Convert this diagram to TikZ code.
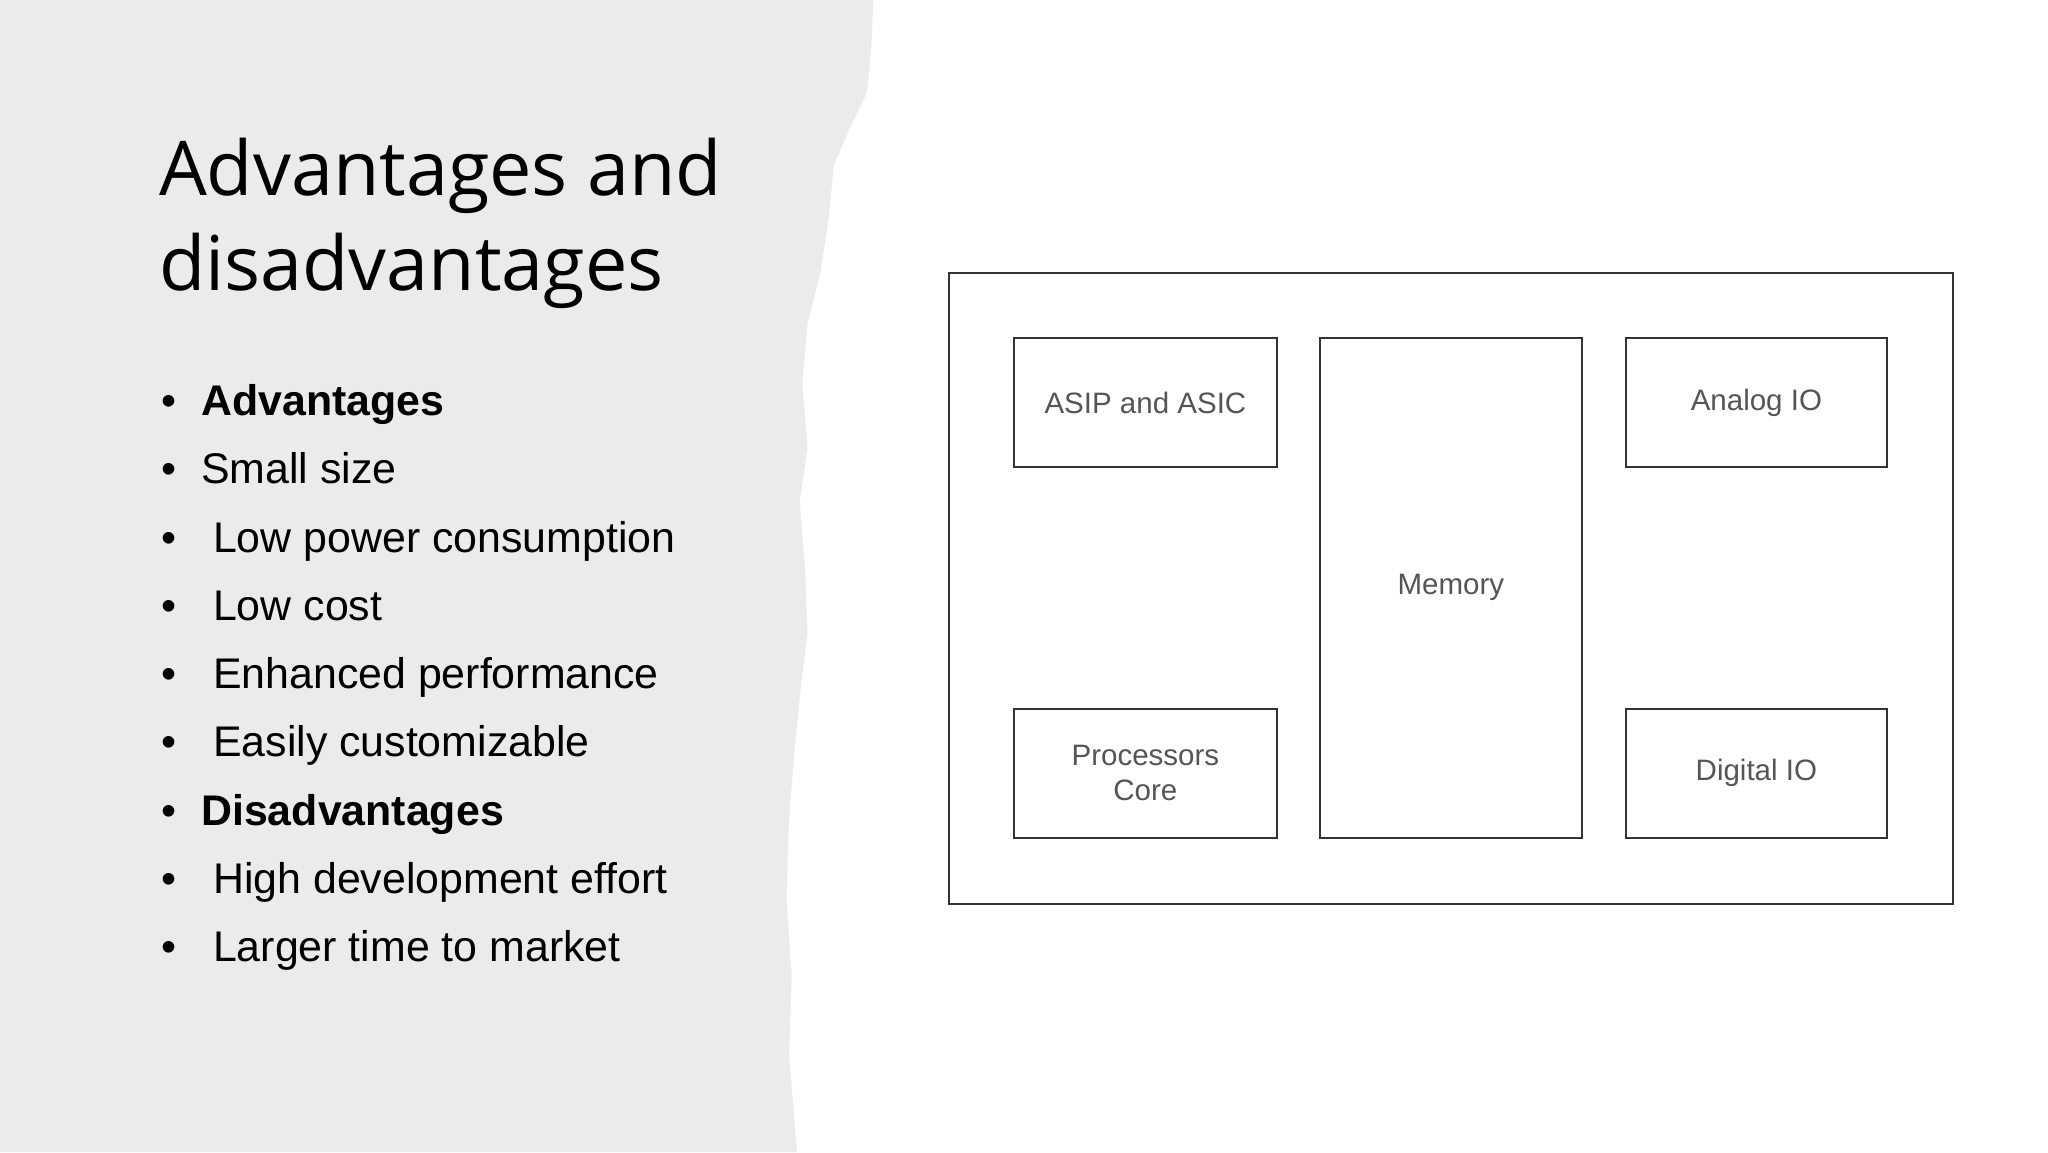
\documentclass[tikz,border=0pt]{standalone}
\usepackage{fontspec}
\setmainfont{Liberation Sans}
\newfontfamily\titlefont{Open Sans}
\usetikzlibrary{positioning}
\definecolor{slidegray}{RGB}{235,235,235}
\definecolor{boxtext}{RGB}{85,85,85}
\tikzset{
    part/.style={draw=black!80, line width=0.6pt, align=center, font=\fontsize{8.4}{10}\selectfont, text=boxtext},
    item/.style={anchor=base west, font=\fontsize{12.2}{15}\selectfont, inner sep=0pt},
    dot/.style={anchor=base, font=\fontsize{12.2}{15}\selectfont, inner sep=0pt}
}
\begin{document}
\begin{tikzpicture}[x=0.013196cm, y=-0.013196cm]
    \useasboundingbox (0,0) rectangle (1552,873);

    % Torn gray panel
    \fill[slidegray] (0,0) -- (662,0) -- (660,40) -- (657,70) -- (645,95) -- (632,125)
        -- (628,165) -- (622,205) -- (612,245) -- (608,290) -- (612,340) -- (606,380)
        -- (610,430) -- (612,480) -- (607,520) -- (602,570) -- (598,620) -- (596,680)
        -- (600,740) -- (598,800) -- (604,873) -- (0,873) -- cycle;

    % Title
    \node[anchor=base west, inner sep=0pt, font=\titlefont\fontsize{21.5}{26}\selectfont]
        (title) at (120,148) {Advantages and};
    \node[anchor=base west, inner sep=0pt, font=\titlefont\fontsize{21.5}{26}\selectfont]
        (title2) at (120,220) {disadvantages};

    % Bullets
    \foreach \txt/\xx [count=\i from 0] in {{\bfseries Advantages}/152, Small size/152,
        Low power consumption/161, Low cost/161, Enhanced performance/161,
        Easily customizable/161, {\bfseries Disadvantages}/152,
        High development effort/161, Larger time to market/161} {
        \node[dot] (dot\i) at (128,{315+51.7*\i}) {•};
        \node[item] (item\i) at (\xx,{315+51.7*\i}) {\txt};
    }

    % Block diagram
    \draw[black!80, line width=0.7pt] (719,207) rectangle (1480,685);
    \node[part, minimum width=199*0.013196cm, minimum height=98*0.013196cm] (asip) at (868,305) {ASIP and ASIC};
    \node[part, minimum width=199*0.013196cm, minimum height=379*0.013196cm] (mem) at (1099.5,445.5) {Memory};
    \node[part, minimum width=198*0.013196cm, minimum height=98*0.013196cm] (analog) at (1331,305) {Analog IO};
    \node[part, minimum width=199*0.013196cm, minimum height=98*0.013196cm] (proc) at (868,586) {Processors\\Core};
    \node[part, minimum width=198*0.013196cm, minimum height=98*0.013196cm] (digital) at (1331,586) {Digital IO};
\end{tikzpicture}
\end{document}
